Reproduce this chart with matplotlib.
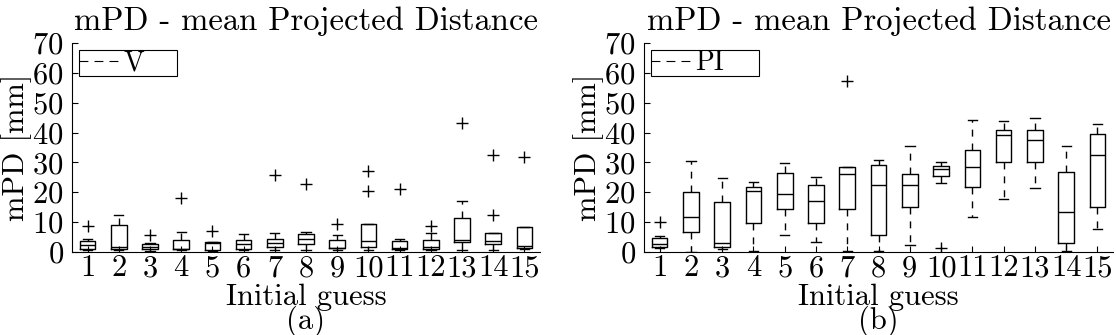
import matplotlib
matplotlib.use("Agg")
import matplotlib.pyplot as plt
from matplotlib.lines import Line2D

# ==============================
# 1. DATA
# ==============================
guesses = list(range(1, 16))
tick_labels = [str(g) for g in guesses]

# panel (a): V
v_q1 = [0.9, 1.1, 0.9, 0.9, 0.5, 1.1, 1.6, 2.6, 1.2, 1.8, 0.9, 1.0, 3.2, 2.6, 1.2]
v_med = [2.3, 1.8, 1.6, 1.1, 3.0, 2.6, 3.0, 4.4, 1.5, 3.7, 1.3, 1.6, 4.0, 3.7, 2.1]
v_q3 = [3.7, 8.9, 2.6, 4.0, 3.2, 4.0, 4.2, 5.9, 4.0, 9.3, 3.7, 4.0, 11.3, 6.3, 8.3]
v_lo = [0.5, 0.5, 0.3, 0.5, 0.2, 0.5, 0.5, 0.5, 0.5, 0.5, 0.5, 0.5, 0.5, 0.5, 0.9]
v_hi = [4.2, 12.3, 3.1, 6.7, 3.5, 5.9, 6.3, 6.6, 5.6, 9.3, 4.2, 6.3, 17.2, 6.3, 8.3]
v_out = [[8.7], [], [5.6], [18.0], [7.1], [], [25.8], [22.7], [9.4],
         [27.2, 20.5], [21.2], [8.7], [43.1], [32.5, 12.3], [31.9]]

# panel (b): PI
pi_q1 = [1.6, 6.6, 1.6, 9.6, 14.3, 9.6, 14.3, 5.7, 15.1, 25.3, 21.7, 30.0, 30.0, 3.0, 15.1]
pi_med = [2.7, 11.7, 3.0, 20.3, 19.3, 17.0, 26.0, 22.3, 22.3, 27.7, 28.4, 39.1, 37.4, 13.3, 32.4]
pi_q3 = [4.6, 20.2, 16.9, 21.7, 26.6, 22.3, 28.4, 29.0, 26.0, 28.7, 34.1, 40.7, 40.7, 26.7, 39.4]
pi_lo = [1.2, 0.1, 0.9, 0.4, 5.7, 3.5, 0.4, 0.4, 2.3, 23.0, 11.7, 17.6, 21.4, 0.4, 7.6]
pi_hi = [5.5, 30.5, 24.9, 23.3, 29.9, 25.2, 28.6, 30.8, 35.4, 30.0, 44.1, 43.8, 44.8, 35.4, 42.8]
pi_out = [[9.9], [], [], [], [], [], [57.4], [], [], [1.2], [], [], [], [], []]

panels = [
    ("V", "(a)", v_q1, v_med, v_q3, v_lo, v_hi, v_out),
    ("PI", "(b)", pi_q1, pi_med, pi_q3, pi_lo, pi_hi, pi_out),
]

# ==============================
# 2. STYLE
# ==============================
plt.rcParams["font.family"] = ["cmr10", "DejaVu Serif"]
plt.rcParams["axes.formatter.use_mathtext"] = True
plt.rcParams["mathtext.fontset"] = "cm"

fig = plt.figure(figsize=(11.16, 3.35), dpi=100)
axes_pos = [[0.0645, 0.2478, 0.4194, 0.6239],
            [0.5771, 0.2478, 0.4203, 0.6239]]

# ==============================
# 3. DRAW
# ==============================
for pos, (name, tag, q1, med, q3, lo, hi, out) in zip(axes_pos, panels):
    ax = fig.add_axes(pos)
    stats = []
    for i in range(len(guesses)):
        stats.append({"med": med[i], "q1": q1[i], "q3": q3[i],
                      "whislo": lo[i], "whishi": hi[i], "fliers": out[i]})
    ax.bxp(stats, positions=guesses, widths=0.5, capwidths=0.3,
           boxprops=dict(color="k", linewidth=1.0),
           whiskerprops=dict(color="k", linewidth=1.0, linestyle=(0, (5, 5))),
           capprops=dict(color="k", linewidth=1.0),
           medianprops=dict(color="k", linewidth=1.0),
           flierprops=dict(marker="+", markeredgecolor="k", markersize=9,
                           markeredgewidth=1.0, linestyle="none"))

    ax.set_xlim(0.5, 15.5)
    ax.set_ylim(0, 70)
    ax.set_yticks(range(0, 71, 10))
    ax.set_xticks(guesses)
    ax.set_xticklabels(tick_labels)
    ax.tick_params(direction="in", length=4, width=0.8, labelsize=22, pad=2)
    ax.tick_params(axis="y", pad=6)
    for s in ["top", "right"]:
        ax.spines[s].set_visible(False)
    for s in ["left", "bottom"]:
        ax.spines[s].set_linewidth(0.8)

    ax.set_title("mPD - mean Projected Distance", fontsize=23.5, pad=9)
    ax.set_ylabel("mPD [mm]", fontsize=22, labelpad=0)
    ax.set_xlabel("Initial guess\n" + tag, fontsize=22, labelpad=1,
                  linespacing=0.75)

    handle = Line2D([], [], color="k", linestyle=(0, (8, 5.5)), linewidth=0.8)
    leg = ax.legend([handle], [name], loc="upper left",
                    bbox_to_anchor=(0.015, 0.966, 0.21 if name == "V" else 0.23, 0.0),
                    mode="expand", fontsize=20, handlelength=1.45,
                    handletextpad=0.15, borderpad=0.0, borderaxespad=0.0,
                    fancybox=False, framealpha=1.0, edgecolor="k")
    leg.get_frame().set_linewidth(0.8)

plt.savefig("out.png", dpi=100)
